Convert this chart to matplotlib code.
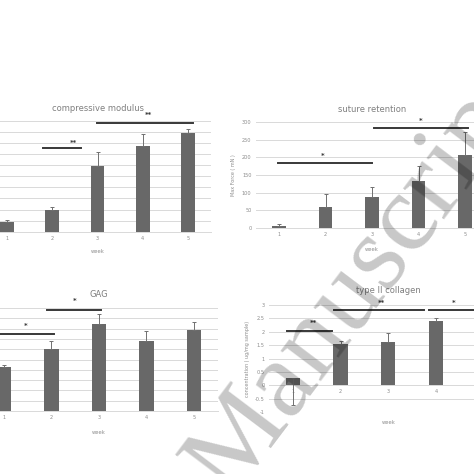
import matplotlib
matplotlib.use('Agg')
import matplotlib.pyplot as plt
import numpy as np

weeks = [1, 2, 3, 4, 5]

modulus = [0.9, 1.95, 5.95, 7.7, 8.9]
modulus_err = [0.2, 0.25, 1.25, 1.15, 0.4]

suture = [7, 59, 87, 133, 207]
suture_err = [5, 37, 28, 43, 64]

gag = [4.23, 6.0, 8.4, 6.78, 7.85]
gag_err = [0.27, 0.78, 0.98, 1.0, 0.78]

collagen_weeks = [1, 2, 3, 4]
collagen = [0.26, 1.56, 1.6, 2.41]
collagen_err_low = [1.01, 0, 0, 0]
collagen_err_up = [0, 0.1, 0.37, 0.1]

BAR = '#686868'
GRID = '#d9d9d9'
TXT = '#8c8c8c'


def style(ax, ylim, step, labelleft=True):
    ax.set_xlim(0.5, 5.5)
    ax.set_ylim(*ylim)
    ax.set_yticks(np.arange(ylim[0], ylim[1] + step / 2, step))
    ax.set_xticks(weeks)
    ax.yaxis.grid(True, color=GRID, lw=0.7)
    ax.set_axisbelow(True)
    for s in ['top', 'right', 'left']:
        ax.spines[s].set_visible(False)
    ax.spines['bottom'].set_color(GRID)
    ax.spines['bottom'].set_linewidth(0.7)
    ax.tick_params(length=0, labelsize=3.6, labelcolor=TXT, pad=3,
                   labelleft=labelleft)


def bars(ax, x, y, err):
    ax.bar(x, y, width=0.3, color=BAR, zorder=2)
    ax.errorbar(x, y, yerr=err, fmt='none', ecolor='#707070', elinewidth=0.7,
                capsize=1.2, capthick=0.7, zorder=3)


def sig(ax, x0, x1, y, xs, ys, s):
    ax.plot([x0, x1], [y, y], color='#383838', lw=1.4, clip_on=False, zorder=4)
    ax.text(xs, ys, s, ha='center', va='center', fontsize=5, color='#383838',
            fontweight='bold', clip_on=False, zorder=4)


fig = plt.figure(figsize=(4.74, 4.74), dpi=100)

# compressive modulus
ax1 = fig.add_axes([-0.0329, 0.511, 0.4772, 0.2342])
style(ax1, (0, 10), 1, labelleft=False)
bars(ax1, weeks, modulus, [np.zeros(5), modulus_err])
ax1.set_title('compressive modulus', fontsize=6, color='#7f7f7f', pad=7)
ax1.set_xlabel('week', fontsize=3.8, color=TXT)
ax1.xaxis.set_label_coords(0.5, -0.156)
sig(ax1, 1.8, 2.64, 7.54, 2.48, 8.0, '**')
sig(ax1, 2.99, 5.11, 9.8, 4.12, 10.5, '**')

# suture retention
ax2 = fig.add_axes([0.5396, 0.519, 0.4905, 0.2236])
style(ax2, (0, 300), 50)
bars(ax2, weeks, suture, [np.zeros(5), suture_err])
ax2.set_title('suture retention', fontsize=6, color='#7f7f7f', pad=7)
ax2.set_xlabel('week', fontsize=3.8, color=TXT)
ax2.xaxis.set_label_coords(0.5, -0.18)
ax2.set_ylabel('Max Force ( mN )', fontsize=3.5, color=TXT, labelpad=4)
sig(ax2, 0.98, 3.0, 185, 1.93, 205, '*')
sig(ax2, 3.04, 5.06, 282, 4.05, 303, '*')

# GAG
ax3 = fig.add_axes([-0.0417, 0.1329, 0.501, 0.2173])
style(ax3, (0, 10), 1, labelleft=False)
bars(ax3, weeks, gag, [np.zeros(5), gag_err])
ax3.set_title('GAG', fontsize=6, color='#7f7f7f', pad=8)
ax3.set_xlabel('week', fontsize=3.8, color=TXT)
ax3.xaxis.set_label_coords(0.5, -0.184)
sig(ax3, 0.3, 2.05, 7.43, 1.45, 8.3, '*')
sig(ax3, 1.9, 3.05, 9.8, 2.48, 10.65, '*')

# type II collagen
ax4 = fig.add_axes([0.5675, 0.1308, 0.5032, 0.2257])
style(ax4, (-1, 3), 0.5)
ax4.spines['bottom'].set_position(('data', 0))
ax4.set_yticks(np.arange(-1, 3.01, 0.5))
ax4.set_yticklabels(['-1', '-0.5', '0', '0.5', '1', '1.5', '2', '2.5', '3'])
bars(ax4, collagen_weeks, collagen, [collagen_err_low, collagen_err_up])
ax4.set_title('type II collagen', fontsize=6, color='#7f7f7f', pad=9)
ax4.set_xlabel('week', fontsize=3.8, color=TXT)
ax4.xaxis.set_label_coords(0.5, -0.075)
ax4.set_ylabel('concentration ( ug/mg sample)', fontsize=3.5, color=TXT, labelpad=4)
sig(ax4, 0.88, 1.83, 2.02, 1.43, 2.33, '**')
sig(ax4, 1.87, 3.75, 2.83, 2.86, 3.08, '**')
sig(ax4, 3.85, 5.2, 2.83, 4.38, 3.08, '*')

fig.text(0.485, -0.05, 'Manuscript', rotation=53, rotation_mode='anchor',
         ha='left', va='baseline', fontsize=80, family='Liberation Serif',
         color='black', alpha=0.22, zorder=10)

fig.savefig('out.png', dpi=100)
